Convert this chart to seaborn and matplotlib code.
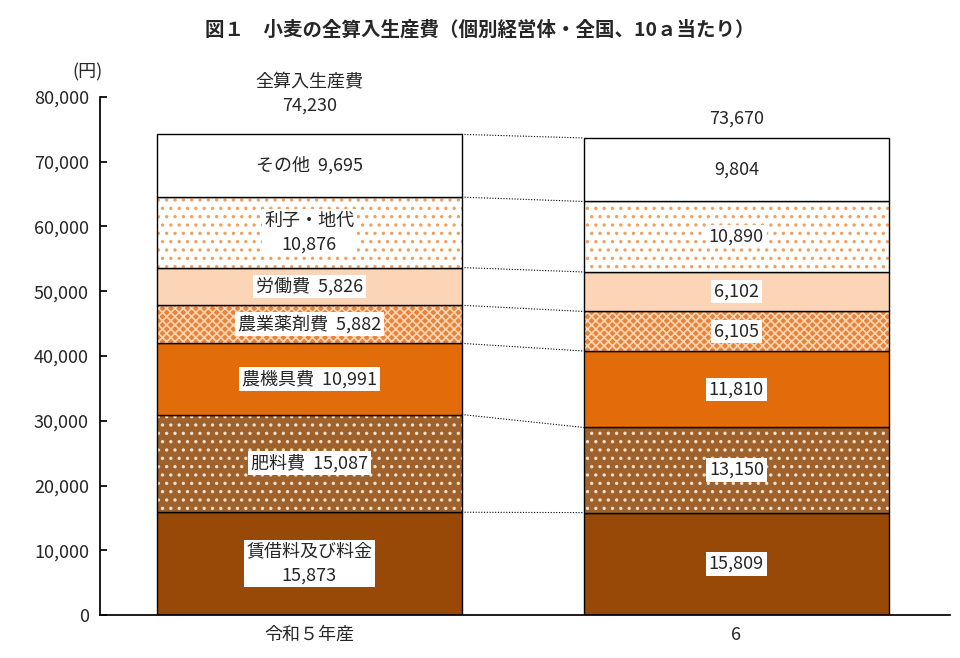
import matplotlib
matplotlib.use("Agg")
import matplotlib.pyplot as plt
import seaborn as sns
import numpy as np

sns.set_theme(style="white")
plt.rcParams["font.family"] = "Noto Sans CJK JP"
plt.rcParams["hatch.linewidth"] = 1.2

categories = ["令和５年産", "6"]
items = ["賃借料及び料金", "肥料費", "農機具費", "農薬薬剤費", "労働費", "利子・地代", "その他"]
v2023 = [15873, 15087, 10991, 5882, 5826, 10876, 9695]
v2024 = [15809, 13150, 11810, 6105, 6102, 10890, 9804]
totals = [74230, 73670]
labels2023 = ["賃借料及び料金\n15,873", "肥料費  15,087", "農機具費  10,991", "農業薬剤費  5,882",
              "労働費  5,826", "利子・地代\n10,876", "その他  9,695"]
labels2024 = ["15,809", "13,150", "11,810", "6,105", "6,102", "10,890", "9,804"]
yticks = [0, 10000, 20000, 30000, 40000, 50000, 60000, 70000, 80000]

faces = ["#984807", "#A0622D", "#E36C0A", "#E8843A", "#FBD5B5", "#FFFFFF", "#FFFFFF"]
hatches = [None, "..", None, "xxxx", None, "..", None]
hcolors = [None, "#F5E0CC", None, "#FBD5B5", None, "#F0A060", None]

fig = plt.figure(figsize=(9.6, 6.58), dpi=100)
ax = fig.add_axes([100/960, 43/658, 850/960, 518/658])
width = 0.714
x = np.arange(2)
data = [v2023, v2024]
cums = []
for i in range(2):
    bottom = 0
    c = []
    for j, v in enumerate(data[i]):
        if hatches[j]:
            ax.bar(x[i], v, width, bottom=bottom, color=faces[j], hatch=hatches[j],
                   edgecolor=hcolors[j], linewidth=0)
        else:
            ax.bar(x[i], v, width, bottom=bottom, color=faces[j], linewidth=0)
        ax.bar(x[i], v, width, bottom=bottom, fill=False, edgecolor="black", linewidth=1)
        labs = labels2023 if i == 0 else labels2024
        ax.text(x[i], bottom + v/2, labs[j], ha="center", va="center", fontsize=13,
                bbox=dict(facecolor="white", edgecolor="none", pad=2), linespacing=1.4)
        bottom += v
        c.append(bottom)
    cums.append(c)
for a, b in zip(cums[0], cums[1]):
    ax.plot([x[0] + width/2, x[1] - width/2], [a, b], color="black", lw=0.8, ls=(0, (1, 1.5)))
ax.text(x[0], totals[0] + 6200, "全算入生産費\n74,230", ha="center", va="center", fontsize=13, linespacing=1.4)
ax.text(x[1], totals[1] + 3000, "73,670", ha="center", va="center", fontsize=13)

ax.set_xlim(-0.49, 1.5)
ax.set_ylim(0, 80000)
ax.set_yticks(yticks)
ax.set_yticklabels([f"{t:,}" for t in yticks], fontsize=13)
ax.set_xticks(x)
ax.set_xticklabels(categories, fontsize=13)
for s in ["top", "right"]:
    ax.spines[s].set_visible(False)
ax.spines["left"].set_color("black")
ax.spines["bottom"].set_color("black")
ax.tick_params(axis="y", direction="in", length=5, left=True, color="black", pad=8)
ax.tick_params(axis="x", length=0, pad=8)
fig.text(88/960, 1 - 72/658, "(円)", ha="center", va="center", fontsize=13)
fig.text(0.5, 1 - 30/658, "図１　小麦の全算入生産費（個別経営体・全国、10ａ当たり）",
         ha="center", va="center", fontsize=14, fontweight="bold")
fig.savefig("out.png", dpi=100)
